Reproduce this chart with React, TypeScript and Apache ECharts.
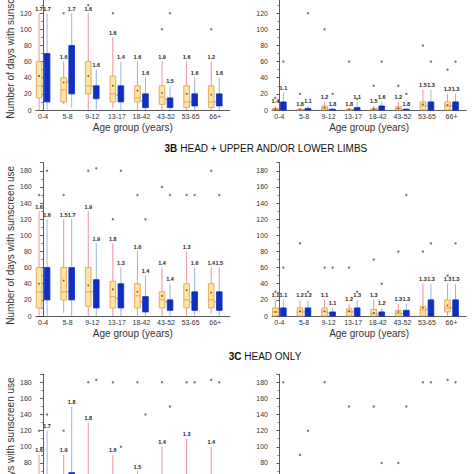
import React, { useEffect, useRef } from 'react';
import * as echarts from 'echarts';

const AGE_GROUPS = ['0-4', '5-8', '9-12', '13-17', '18-42', '43-52', '53-65', '66+'];

// Box statistics per age group: [whisker low, Q1, median, Q3, whisker high, mean]
const A_LEFT_ORANGE = [
  [0, 15, 30, 60, 120, 42], [7, 10, 25, 40, 60, 34], [0, 20, 30, 60, 120, 42], [2, 10, 20, 42, 90, 30],
  [0, 10, 15, 30, 60, 24], [0, 7, 16, 30, 60, 21], [0, 3, 10, 30, 60, 20], [0, 3, 10, 30, 60, 19],
];
const A_LEFT_BLUE = [
  [0, 10, 30, 70, 120], [3, 20, 45, 80, 120], [0, 14, 29, 30, 50], [0, 10, 17, 30, 60],
  [0, 3, 8, 20, 40], [0, 3, 10, 15, 30], [0, 5, 10, 20, 40], [0, 5, 10, 20, 40],
];
const A_LEFT_ORANGE_LBL = ['1.7', '1.6', '1.6', '1.6', '1.6', '1.9', '1.6', '1.2'];
const A_LEFT_BLUE_LBL = ['1.7', '1.7', '1.6', '1.4', '1.6', '1.5', '1.6', '1.6'];
const A_LEFT_ORANGE_OUT = [[], [120], [130], [120], [], [100], [], [100]];
const A_LEFT_BLUE_OUT = [[], [], [], [], [], [120], [], []];

const A_RIGHT_ORANGE = [
  [0, 0, 1, 2, 5, 1], [0, 0, 0, 1, 2, 0.5], [0, 0, 2, 5, 10, 3], [0, 0, 0, 1, 2, 0.5],
  [0, 0, 1, 2, 5, 1], [0, 0, 2, 4, 10, 2], [0, 0, 5, 10, 25, 7], [0, 0, 5, 10, 20, 6],
];
const A_RIGHT_BLUE = [
  [0, 0, 3, 10, 22], [0, 0, 1, 2, 5], [0, 0, 0, 1, 2], [0, 0, 1, 3, 10],
  [0, 0, 2, 5, 10], [0, 0, 0, 1, 2], [0, 0, 5, 10, 25], [0, 0, 5, 10, 20],
];
const A_RIGHT_ORANGE_LBL = ['1.4', '1.8', '1.2', '1.8', '1.5', '1.2', '1.5', '1.2'];
const A_RIGHT_BLUE_LBL = ['1.1', '1.1', '1.8', '1.1', '1.6', '1.8', '1.3', '1.3'];
const A_RIGHT_ORANGE_OUT = [[15], [20], [100], [60], [30], [30], [80], [50]];
const A_RIGHT_BLUE_OUT = [[60], [120], [20], [14], [60], [20], [60], [60]];

const B_LEFT_ORANGE = [
  [0, 10, 30, 60, 130, 40], [4, 20, 30, 60, 120, 44], [0, 12, 30, 60, 130, 38], [0, 10, 24, 43, 90, 33],
  [0, 10, 25, 40, 80, 30], [0, 10, 20, 30, 60, 25], [0, 10, 20, 40, 80, 32], [3, 10, 20, 40, 60, 29],
];
const B_LEFT_BLUE = [
  [0, 20, 35, 60, 120], [0, 20, 30, 60, 120], [0, 10, 30, 45, 90], [0, 10, 20, 40, 60],
  [0, 5, 10, 24, 50], [0, 7, 15, 20, 40], [0, 7, 15, 30, 60], [0, 7, 15, 30, 60],
];
const B_LEFT_ORANGE_LBL = ['1.6', '1.5', '1.9', '1.8', '1.6', '1.4', '1.3', '1.4'];
const B_LEFT_BLUE_LBL = ['1.6', '1.7', '1.9', '1.3', '1.4', '1.4', '1.6', '1.5'];
const B_LEFT_ORANGE_OUT = [[150], [150], [180], [120], [150], [160], [150], [180]];
const B_LEFT_BLUE_OUT = [[180], [], [183], [180], [120], [150], [150], [150]];

const B_RIGHT_ORANGE = [
  [0, 0, 5, 10, 20, 5], [0, 0, 5, 10, 20, 6], [0, 0, 5, 10, 20, 6], [0, 0, 5, 9, 15, 6],
  [0, 0, 3, 8, 20, 4], [0, 0, 3, 7, 15, 5], [0, 0, 7, 12, 40, 10], [0, 5, 10, 20, 40, 13],
];
const B_RIGHT_BLUE = [
  [0, 0, 5, 10, 20], [0, 0, 5, 10, 20], [0, 0, 2, 5, 10], [0, 0, 5, 10, 20],
  [0, 0, 2, 5, 10], [0, 0, 3, 7, 15], [0, 0, 10, 20, 40], [0, 0, 10, 20, 40],
];
const B_RIGHT_ORANGE_LBL = ['1.1', '1.2', '1.1', '1.2', '1.3', '1.3', '1.3', '1.3'];
const B_RIGHT_BLUE_LBL = ['1.1', '1.2', '1.1', '1.3', '1.2', '1.3', '1.3', '1.3'];
const B_RIGHT_ORANGE_OUT = [[30], [90], [60], [60], [70], [80], [80], [50]];
const B_RIGHT_BLUE_OUT = [[60], [30], [60], [30], [40], [150], [90], [90]];

const C_LEFT_ORANGE = [
  [0, 10, 30, 50, 90, 35], [0, 10, 30, 50, 90, 35], [0, 20, 30, 60, 130, 40], [0, 10, 30, 50, 90, 33],
  [0, 10, 20, 35, 70, 26], [0, 10, 20, 50, 100, 30], [0, 10, 30, 60, 110, 35], [0, 10, 30, 50, 100, 32],
];
const C_LEFT_BLUE = [
  [0, 10, 30, 60, 120], [0, 20, 40, 68, 150], [0, 5, 10, 25, 50], [0, 5, 10, 25, 50],
  [0, 5, 10, 20, 40], [0, 5, 10, 20, 40], [0, 5, 10, 25, 50], [0, 5, 10, 25, 50],
];
const C_LEFT_ORANGE_LBL = ['1.6', '1.9', '1.8', '1.6', '1.5', '1.4', '1.3', '1.4'];
const C_LEFT_BLUE_LBL = ['1.7', '1.8', '1.5', '1.5', '1.4', '1.4', '1.5', '1.5'];
const C_LEFT_ORANGE_OUT = [[120], [120], [180], [180], [180], [180], [180], [183]];
const C_LEFT_BLUE_OUT = [[140], [], [183], [100], [140], [150], [180], [180]];

const C_RIGHT_ORANGE = [
  [0, 0, 2, 5, 10, 3], [0, 0, 2, 5, 10, 3], [0, 0, 2, 5, 10, 3], [0, 0, 2, 5, 10, 3],
  [0, 0, 2, 5, 10, 3], [0, 0, 2, 5, 10, 3], [0, 0, 5, 10, 20, 6], [0, 0, 5, 10, 20, 6],
];
const C_RIGHT_BLUE = [
  [0, 0, 2, 5, 10], [0, 0, 2, 5, 10], [0, 0, 2, 5, 10], [0, 0, 2, 5, 10],
  [0, 0, 2, 5, 10], [0, 0, 2, 5, 10], [0, 0, 5, 10, 20], [0, 0, 5, 10, 20],
];
const C_RIGHT_ORANGE_LBL = ['1.2', '1.2', '1.2', '1.2', '1.2', '1.2', '1.3', '1.3'];
const C_RIGHT_BLUE_LBL = ['1.2', '1.2', '1.2', '1.2', '1.2', '1.2', '1.3', '1.3'];
const C_RIGHT_ORANGE_OUT = [[], [90], [180], [150], [150], [80], [180], [183]];
const C_RIGHT_BLUE_OUT = [[180], [120], [], [], [80], [150], [180], [180]];

const PANELS = [
  { orange: A_LEFT_ORANGE, blue: A_LEFT_BLUE, oLbl: A_LEFT_ORANGE_LBL, bLbl: A_LEFT_BLUE_LBL, oOut: A_LEFT_ORANGE_OUT, bOut: A_LEFT_BLUE_OUT },
  { orange: A_RIGHT_ORANGE, blue: A_RIGHT_BLUE, oLbl: A_RIGHT_ORANGE_LBL, bLbl: A_RIGHT_BLUE_LBL, oOut: A_RIGHT_ORANGE_OUT, bOut: A_RIGHT_BLUE_OUT },
  { orange: B_LEFT_ORANGE, blue: B_LEFT_BLUE, oLbl: B_LEFT_ORANGE_LBL, bLbl: B_LEFT_BLUE_LBL, oOut: B_LEFT_ORANGE_OUT, bOut: B_LEFT_BLUE_OUT },
  { orange: B_RIGHT_ORANGE, blue: B_RIGHT_BLUE, oLbl: B_RIGHT_ORANGE_LBL, bLbl: B_RIGHT_BLUE_LBL, oOut: B_RIGHT_ORANGE_OUT, bOut: B_RIGHT_BLUE_OUT },
  { orange: C_LEFT_ORANGE, blue: C_LEFT_BLUE, oLbl: C_LEFT_ORANGE_LBL, bLbl: C_LEFT_BLUE_LBL, oOut: C_LEFT_ORANGE_OUT, bOut: C_LEFT_BLUE_OUT },
  { orange: C_RIGHT_ORANGE, blue: C_RIGHT_BLUE, oLbl: C_RIGHT_ORANGE_LBL, bLbl: C_RIGHT_BLUE_LBL, oOut: C_RIGHT_ORANGE_OUT, bOut: C_RIGHT_BLUE_OUT },
];

const FONT = '"Liberation Sans", Arial, sans-serif';
const AXIS_COLOR = '#333';
const ORANGE_FILL = '#fce6a4';
const ORANGE_EDGE = '#e4954a';
const PINK = '#ec90a2';
const BLUE_FILL = '#0f2fc0';
const LIGHT_BLUE = '#9bb5e3';
const LINK_COLOR = '#8a7466';

const OFFSET = 0.163; // half distance between the paired boxes, in category units
const BOX_W = 0.23;

const ROW_TOPS = [-43.3, 162.7, 374.2];
const COL_LEFTS = [35.7, 272];
const GRID_W = 194.3;
const GRID_H = 153.3;

function boxRenderer(kind: 'o' | 'b', labels: string[]) {
  return (params: any, api: any) => {
    const x = api.value(0);
    const lo = api.value(1);
    const q1 = api.value(2);
    const med = api.value(3);
    const q3 = api.value(4);
    const hi = api.value(5);
    const w = api.size([BOX_W, 0])[0];
    const pLo = api.coord([x, lo]);
    const pQ1 = api.coord([x, q1]);
    const pMed = api.coord([x, med]);
    const pQ3 = api.coord([x, q3]);
    const pHi = api.coord([x, hi]);
    const cx = pLo[0];
    const wc = kind === 'o' ? PINK : LIGHT_BLUE;
    const children: any[] = [
      { type: 'line', shape: { x1: cx, y1: pHi[1], x2: cx, y2: pQ3[1] }, style: { stroke: wc, lineWidth: 1 } },
      { type: 'line', shape: { x1: cx, y1: pQ1[1], x2: cx, y2: pLo[1] }, style: { stroke: wc, lineWidth: 1 } },
      {
        type: 'rect',
        shape: { x: cx - w / 2, y: pQ3[1], width: w, height: Math.max(pQ1[1] - pQ3[1], 0.8) },
        style: kind === 'o'
          ? { fill: ORANGE_FILL, stroke: ORANGE_EDGE, lineWidth: 0.8 }
          : { fill: BLUE_FILL, stroke: BLUE_FILL, lineWidth: 0.8 },
      },
    ];
    if (kind === 'o') {
      children.push({
        type: 'line',
        shape: { x1: cx - w / 2, y1: pMed[1], x2: cx + w / 2, y2: pMed[1] },
        style: { stroke: ORANGE_EDGE, lineWidth: 0.8 },
      });
      const mean = api.value(6);
      const pMean = api.coord([x, mean]);
      children.push({
        type: 'rect',
        shape: { x: cx - 0.8, y: pMean[1] - 0.8, width: 1.6, height: 1.6 },
        style: { fill: '#6b4a2a' },
      });
    }
    children.push({
      type: 'text',
      x: cx,
      y: pHi[1] - 1.5,
      style: {
        text: labels[params.dataIndex],
        font: `bold 5.5px ${FONT}`,
        fill: '#222',
        align: 'center',
        verticalAlign: 'bottom',
      },
    });
    return { type: 'group', children };
  };
}

function linkRenderer(params: any, api: any) {
  const x = api.value(0);
  const a = api.coord([x - OFFSET, api.value(1)]);
  const b = api.coord([x + OFFSET, api.value(2)]);
  return { type: 'line', shape: { x1: a[0], y1: a[1], x2: b[0], y2: b[1] }, style: { stroke: LINK_COLOR, lineWidth: 0.7 } };
}

function buildOption() {
  const grids: any[] = [];
  const xAxes: any[] = [];
  const yAxes: any[] = [];
  const series: any[] = [];
  const idx = AGE_GROUPS.map((_, i) => i);
  PANELS.forEach((p, g) => {
    const row = Math.floor(g / 2);
    const col = g % 2;
    grids.push({ left: COL_LEFTS[col], top: ROW_TOPS[row], width: GRID_W, height: GRID_H, outerBoundsMode: 'none' });
    xAxes.push({
      type: 'value', gridIndex: g, min: -0.3, max: 7.6,
      axisLine: { show: true, onZero: false, lineStyle: { color: AXIS_COLOR, width: 0.8 } },
      axisTick: { show: false },
      splitLine: { show: false },
      axisLabel: {
        customValues: idx, formatter: (v: number) => AGE_GROUPS[Math.round(v)],
        fontSize: 7, color: AXIS_COLOR, margin: 3, fontFamily: FONT,
      },
      name: 'Age group (years)', nameLocation: 'middle', nameGap: 12,
      nameTextStyle: { fontSize: 10, color: AXIS_COLOR, fontFamily: FONT },
    });
    yAxes.push({
      type: 'value', gridIndex: g, min: 0, max: 190, interval: 20,
      axisLine: { show: true, lineStyle: { color: AXIS_COLOR, width: 0.8 } },
      axisTick: { show: true, length: 3, lineStyle: { color: AXIS_COLOR, width: 0.8 } },
      minorTick: { show: true, splitNumber: 2, length: 2, lineStyle: { color: AXIS_COLOR, width: 0.6 } },
      splitLine: { show: false },
      axisLabel: { fontSize: 7, color: AXIS_COLOR, margin: 4, fontFamily: FONT, showMaxLabel: false },
      name: col === 0 ? 'Number of days with sunscreen use' : '',
      nameLocation: 'middle', nameGap: 20,
      nameTextStyle: { fontSize: 10, color: AXIS_COLOR, fontFamily: FONT, padding: [0, 12, 0, 0] },
    });
    series.push({
      type: 'custom', xAxisIndex: g, yAxisIndex: g,
      data: idx.map((i) => [i, p.orange[i][2], p.blue[i][2]]),
      renderItem: linkRenderer,
    });
    series.push({
      type: 'custom', xAxisIndex: g, yAxisIndex: g,
      data: p.orange.map((s, i) => [i - OFFSET, ...s]),
      renderItem: boxRenderer('o', p.oLbl),
    });
    series.push({
      type: 'custom', xAxisIndex: g, yAxisIndex: g,
      data: p.blue.map((s, i) => [i + OFFSET, ...s]),
      renderItem: boxRenderer('b', p.bLbl),
    });
    const outliers: number[][] = [];
    p.oOut.forEach((vals, i) => vals.forEach((v) => outliers.push([i - OFFSET, v])));
    p.bOut.forEach((vals, i) => vals.forEach((v) => outliers.push([i + OFFSET, v])));
    series.push({
      type: 'scatter', xAxisIndex: g, yAxisIndex: g, data: outliers,
      symbol: 'circle', symbolSize: 2.4, itemStyle: { color: '#555' },
    });
  });
  return {
    animation: false,
    backgroundColor: '#fff',
    grid: grids,
    xAxis: xAxes,
    yAxis: yAxes,
    series,
    graphic: [
      {
        type: 'text', x: 266, y: 148,
        style: {
          text: '{b|3B} HEAD + UPPER AND/OR LOWER LIMBS',
          rich: { b: { fontWeight: 'bold', fontSize: 10, fontFamily: FONT, fill: '#111' } },
          font: `10px ${FONT}`, fill: '#111', align: 'center', verticalAlign: 'middle',
        },
      },
      {
        type: 'text', x: 265, y: 356,
        style: {
          text: '{b|3C} HEAD ONLY',
          rich: { b: { fontWeight: 'bold', fontSize: 10, fontFamily: FONT, fill: '#111' } },
          font: `10px ${FONT}`, fill: '#111', align: 'center', verticalAlign: 'middle',
        },
      },
    ],
  };
}

export default function App() {
  const ref = useRef<HTMLDivElement>(null);
  useEffect(() => {
    if (!ref.current) return;
    const chart = echarts.init(ref.current, undefined, { renderer: 'svg' });
    chart.setOption(buildOption() as any);
    return () => chart.dispose();
  }, []);
  return <div ref={ref} style={{ position: 'fixed', left: 0, top: 0, width: 474, height: 474, background: '#fff' }} />;
}
